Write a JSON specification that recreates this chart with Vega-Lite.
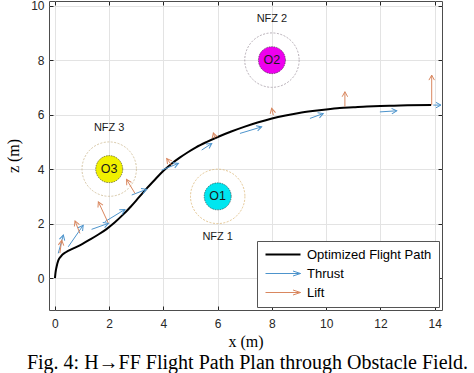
{
  "$schema": "https://vega.github.io/schema/vega-lite/v6.json",
  "width": 393,
  "height": 309,
  "autosize": {"type": "none"},
  "padding": {"left": 49, "top": 1, "right": 32, "bottom": 63},
  "background": "white",
  "title": {"text": "Fig. 4: H→FF Flight Path Plan through Obstacle Field.", "orient": "bottom", "anchor": "middle", "frame": "group", "font": "Liberation Serif", "fontSize": 20, "fontWeight": "normal", "color": "#000000", "offset": 4, "dx": 2},
  "datasets": {
    "path": [
      {"x": 0, "y": 0}, {"x": 0.02, "y": 0.2}, {"x": 0.06, "y": 0.42}, {"x": 0.12, "y": 0.64},
      {"x": 0.22, "y": 0.8}, {"x": 0.4, "y": 0.95}, {"x": 0.7, "y": 1.1}, {"x": 1.0, "y": 1.25},
      {"x": 1.3, "y": 1.42}, {"x": 1.6, "y": 1.6}, {"x": 1.9, "y": 1.8}, {"x": 2.2, "y": 2.04},
      {"x": 2.5, "y": 2.32}, {"x": 2.8, "y": 2.63}, {"x": 3.1, "y": 2.97}, {"x": 3.4, "y": 3.31},
      {"x": 3.7, "y": 3.63}, {"x": 4.0, "y": 3.94}, {"x": 4.3, "y": 4.2}, {"x": 4.6, "y": 4.42},
      {"x": 4.9, "y": 4.62}, {"x": 5.2, "y": 4.8}, {"x": 5.6, "y": 5.0}, {"x": 6.0, "y": 5.18},
      {"x": 6.5, "y": 5.38}, {"x": 7.0, "y": 5.56}, {"x": 7.5, "y": 5.72}, {"x": 8.0, "y": 5.86},
      {"x": 8.5, "y": 5.97}, {"x": 9.0, "y": 6.06}, {"x": 9.5, "y": 6.13}, {"x": 10.0, "y": 6.19},
      {"x": 10.5, "y": 6.24}, {"x": 11.0, "y": 6.27}, {"x": 11.5, "y": 6.3}, {"x": 12.0, "y": 6.32},
      {"x": 12.5, "y": 6.33}, {"x": 13.0, "y": 6.34}, {"x": 13.87, "y": 6.35}
    ],
    "arrows": [
      {"kind": "Thrust", "x": 0.12, "y": 0.91, "x2": 0.31, "y2": 1.58, "ang": -74.7},
      {"kind": "Thrust", "x": 0.49, "y": 1.15, "x2": 1.04, "y2": 1.94, "ang": -55.3},
      {"kind": "Thrust", "x": 1.35, "y": 1.79, "x2": 1.97, "y2": 2.01, "ang": -19.9},
      {"kind": "Thrust", "x": 1.84, "y": 2.07, "x2": 2.58, "y2": 2.52, "ang": -31.8},
      {"kind": "Thrust", "x": 2.83, "y": 3.05, "x2": 3.38, "y2": 3.26, "ang": -20.8},
      {"kind": "Thrust", "x": 3.93, "y": 3.96, "x2": 4.55, "y2": 4.21, "ang": -22},
      {"kind": "Thrust", "x": 5.41, "y": 4.7, "x2": 5.78, "y2": 4.94, "ang": -33.8},
      {"kind": "Thrust", "x": 6.82, "y": 5.31, "x2": 7.62, "y2": 5.55, "ang": -16.9},
      {"kind": "Thrust", "x": 9.4, "y": 5.86, "x2": 9.89, "y2": 6.04, "ang": -20.6},
      {"kind": "Thrust", "x": 11.98, "y": 6.1, "x2": 12.6, "y2": 6.14, "ang": -3.4},
      {"kind": "Thrust", "x": 13.95, "y": 6.35, "x2": 14.23, "y2": 6.35, "ang": 0},
      {"kind": "Lift", "x": 0.18, "y": 0.92, "x2": 0.25, "y2": 1.39, "ang": -82.5},
      {"kind": "Lift", "x": 0.92, "y": 1.64, "x2": 0.74, "y2": 2.1, "ang": -111.6},
      {"kind": "Lift", "x": 1.97, "y": 2.01, "x2": 1.6, "y2": 2.8, "ang": -114.8},
      {"kind": "Lift", "x": 2.95, "y": 3.11, "x2": 2.64, "y2": 3.62, "ang": -120.7},
      {"kind": "Lift", "x": 4.3, "y": 4.15, "x2": 4.12, "y2": 4.39, "ang": -126.7},
      {"kind": "Lift", "x": 5.9, "y": 5.13, "x2": 5.84, "y2": 5.33, "ang": -106.9},
      {"kind": "Lift", "x": 8.05, "y": 5.98, "x2": 7.99, "y2": 6.23, "ang": -103.4},
      {"kind": "Lift", "x": 10.69, "y": 6.29, "x2": 10.69, "y2": 6.84, "ang": -90},
      {"kind": "Lift", "x": 13.89, "y": 6.35, "x2": 13.89, "y2": 7.45, "ang": -90}
    ],
    "obstacles": [
      {"name": "O1", "x": 6, "y": 3, "nfz": "NFZ 1", "ly": 1.5},
      {"name": "O2", "x": 8, "y": 8, "nfz": "NFZ 2", "ly": 9.5},
      {"name": "O3", "x": 2, "y": 4, "nfz": "NFZ 3", "ly": 5.5}
    ]
  },
  "config": {
    "view": {"stroke": "#4d4d4d", "strokeWidth": 1},
    "axis": {"labelFont": "Liberation Sans", "labelFontSize": 12, "labelColor": "#262626", "titleFont": "Liberation Serif", "titleFontSize": 16, "titleFontWeight": "normal", "titleColor": "#000000", "gridColor": "#e3e3e3", "tickColor": "#262626", "domain": false},
    "legend": {"title": null}
  },
  "resolve": {"axis": {"x": "independent", "y": "independent"}},
  "layer": [
    {
      "data": {"name": "obstacles"},
      "mark": {"type": "point", "filled": false, "size": 2960, "strokeWidth": 0.8, "strokeDash": [2, 1.5], "opacity": 1},
      "encoding": {
        "x": {"field": "x", "type": "quantitative", "scale": {"domain": [-0.22, 14.27], "nice": false, "zero": false},
              "axis": {"orient": "bottom", "values": [0, 2, 4, 6, 8, 10, 12, 14], "title": "x (m)", "tickSize": -4, "labelPadding": 12, "titlePadding": 4, "grid": true}},
        "y": {"field": "y", "type": "quantitative", "scale": {"domain": [-1.17, 10.17], "nice": false, "zero": false},
              "axis": {"orient": "left", "values": [0, 2, 4, 6, 8, 10], "title": "z (m)", "tickSize": -4, "labelPadding": 9, "titlePadding": 9, "grid": true}},
        "stroke": {"field": "name", "type": "nominal", "scale": {"domain": ["O1", "O2", "O3"], "range": ["#dcb878", "#a49aa4", "#cdb990"]}, "legend": null}
      }
    },
    {
      "data": {"name": "obstacles"},
      "mark": {"type": "point", "filled": true, "size": 729, "opacity": 1, "stroke": "#333333", "strokeWidth": 0.6, "strokeDash": [1.5, 1]},
      "encoding": {
        "x": {"field": "x", "type": "quantitative", "scale": {"domain": [-0.22, 14.27], "nice": false, "zero": false}, "axis": null},
        "y": {"field": "y", "type": "quantitative", "scale": {"domain": [-1.17, 10.17], "nice": false, "zero": false}, "axis": null},
        "fill": {"field": "name", "type": "nominal", "scale": {"domain": ["O1", "O2", "O3"], "range": ["#00e6f0", "#ee00ee", "#f0f000"]}, "legend": null}
      }
    },
    {
      "data": {"name": "obstacles"},
      "mark": {"type": "text", "font": "Liberation Sans", "fontSize": 12.5, "color": "#1a1a1a"},
      "encoding": {
        "x": {"field": "x", "type": "quantitative", "scale": {"domain": [-0.22, 14.27], "nice": false, "zero": false}, "axis": null},
        "y": {"field": "y", "type": "quantitative", "scale": {"domain": [-1.17, 10.17], "nice": false, "zero": false}, "axis": null},
        "text": {"field": "name"}
      }
    },
    {
      "data": {"name": "obstacles"},
      "mark": {"type": "text", "font": "Liberation Sans", "fontSize": 11, "color": "#1a1a1a"},
      "encoding": {
        "x": {"field": "x", "type": "quantitative", "scale": {"domain": [-0.22, 14.27], "nice": false, "zero": false}, "axis": null},
        "y": {"field": "ly", "type": "quantitative", "scale": {"domain": [-1.17, 10.17], "nice": false, "zero": false}, "axis": null},
        "text": {"field": "nfz"}
      }
    },
    {
      "data": {"name": "path"},
      "mark": {"type": "line", "strokeWidth": 2, "interpolate": "monotone"},
      "encoding": {
        "x": {"field": "x", "type": "quantitative", "scale": {"domain": [-0.22, 14.27], "nice": false, "zero": false},
              "axis": {"orient": "top", "values": [0, 2, 4, 6, 8, 10, 12, 14], "title": null, "labels": false, "tickSize": -4, "grid": false}},
        "y": {"field": "y", "type": "quantitative", "scale": {"domain": [-1.17, 10.17], "nice": false, "zero": false},
              "axis": {"orient": "right", "values": [0, 2, 4, 6, 8, 10], "title": null, "labels": false, "tickSize": -4, "grid": false}},
        "color": {"datum": "Optimized Flight Path", "type": "nominal", "title": null,
                  "scale": {"domain": ["Optimized Flight Path", "Thrust", "Lift"], "range": ["#000000", "#4d94cc", "#d9875f"]},
                  "legend": {"title": null, "orient": "bottom-right", "offset": 3, "fillColor": "#ffffff", "strokeColor": "#555555", "padding": 7, "rowPadding": 5,
                             "labelFont": "Liberation Sans", "labelFontSize": 13, "labelColor": "#000000", "symbolSize": 100, "labelOffset": 30,
                             "encode": {"symbols": {"update": {
                               "shape": {"signal": "datum.value === 'Optimized Flight Path' ? 'M-1,0L6,0' : 'M-1,0L6,0M4.5,-0.5L6,0L4.5,0.5'"},
                               "fill": {"value": "transparent"},
                               "stroke": {"scale": "color", "field": "value"},
                               "strokeWidth": {"signal": "datum.value === 'Optimized Flight Path' ? 2 : 1"}}}}}}
      }
    },
    {
      "data": {"name": "arrows"},
      "mark": {"type": "rule", "strokeWidth": 1},
      "encoding": {
        "x": {"field": "x", "type": "quantitative", "scale": {"domain": [-0.22, 14.27], "nice": false, "zero": false}, "axis": null},
        "y": {"field": "y", "type": "quantitative", "scale": {"domain": [-1.17, 10.17], "nice": false, "zero": false}, "axis": null},
        "x2": {"field": "x2"},
        "y2": {"field": "y2"},
        "color": {"field": "kind", "type": "nominal", "title": null, "scale": {"domain": ["Optimized Flight Path", "Thrust", "Lift"], "range": ["#000000", "#4d94cc", "#d9875f"]}}
      }
    },
    {
      "data": {"name": "arrows"},
      "mark": {"type": "point", "shape": "M-1,-0.55L0,0L-1,0.55", "filled": false, "size": 100, "strokeWidth": 1, "opacity": 1},
      "encoding": {
        "x": {"field": "x2", "type": "quantitative", "scale": {"domain": [-0.22, 14.27], "nice": false, "zero": false}, "axis": null},
        "y": {"field": "y2", "type": "quantitative", "scale": {"domain": [-1.17, 10.17], "nice": false, "zero": false}, "axis": null},
        "angle": {"field": "ang", "type": "quantitative", "scale": null},
        "color": {"field": "kind", "type": "nominal", "title": null, "scale": {"domain": ["Optimized Flight Path", "Thrust", "Lift"], "range": ["#000000", "#4d94cc", "#d9875f"]}}
      }
    }
  ]
}
